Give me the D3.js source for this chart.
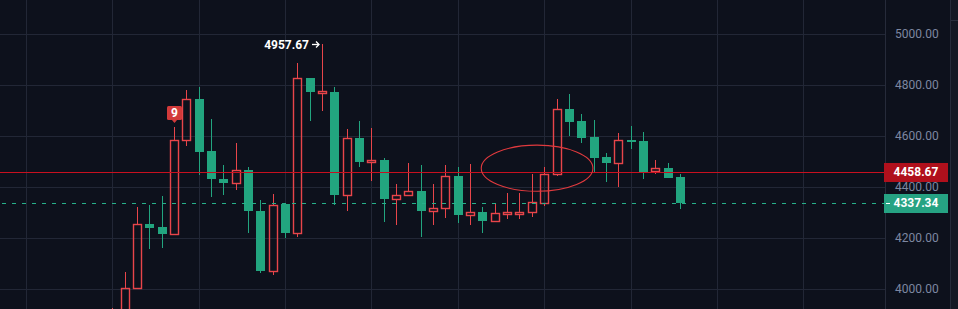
<!DOCTYPE html>
<html><head><meta charset="utf-8">
<script src="https://cdn.jsdelivr.net/npm/d3@7/dist/d3.min.js"></script>
<style>
html,body{margin:0;padding:0;background:#0d111c;overflow:hidden}
svg{display:block}
text{font-family:Roboto,"Liberation Sans",sans-serif}
</style></head><body>
<svg id="c" width="958" height="309"></svg>
<script>
// ---- data ----
const categories = [0,1,2,3,4,5,6,7,8,9,10,11,12,13,14,15,16,17,18,19,20,21,22,23,24,25,26,27,28,29,30,31,32,33,34,35,36,37,38,39,40,41,42,43,44,45,46];
const opens  = [3860,3900,4003,4255,4243,4214,4583,4745,4541,4431,4415,4467,4306,4068,4331,4218,4827,4770,4773,4366,4592,4495,4506,4350,4366,4384,4306,4315,4443,4288,4301,4266,4295,4297,4299,4338,4450,4706,4659,4596,4518,4491,4584,4580,4460,4475,4439];
const highs  = [3923,4067,4322,4328,4365,4635,4779,4790,4665,4485,4570,4476,4349,4371,4335,4885,4828,4957.67,4792,4627,4659,4629,4511,4411,4494,4486,4411,4484,4476,4489,4322,4331,4376,4376,4448,4478,4745,4763,4686,4663,4532,4612,4639,4616,4503,4494,4450];
const lows   = [3820,3880,4000,4156,4160,4212,4558,4447,4358,4366,4388,4220,4060,4055,4197,4201,4658,4698,4327,4306,4476,4421,4260,4251,4366,4201,4250,4276,4258,4248,4217,4264,4272,4272,4280,4324,4443,4599,4570,4459,4417,4400,4546,4429,4448,4433,4314];
const closes = [3900,4003,4254,4240,4213,4583,4744,4538,4429,4413,4465,4303,4068,4329,4217,4826,4770,4776,4366,4591,4495,4506,4350,4369,4384,4306,4316,4443,4288,4301,4264,4297,4302,4302,4340,4451,4705,4655,4592,4514,4491,4583,4578,4459,4475,4435,4337.34];
const yTicks = [4000,4200,4400,4600,4800,5000];
const priceLine = 4458.67;
const lastPrice = 4337.34;
const highLabel = "4957.67";
const highIndex = 17;
const markerIndex = 5;
const markerText = "9";
const ellipseBox = {i0: 29.9, i1: 38.95, p0: 4382, p1: 4563};

// ---- layout ----
const W = 958, H = 309, plotR = 885;
const UP = "#e8454a", DOWN = "#22a57f";
const svg = d3.select("#c");
svg.append("rect").attr("width", W).attr("height", H).attr("fill", "#0d111c");

const x = d3.scaleLinear().domain([-9.1, 62.62]).range([0, plotR]);
const y = d3.scaleLinear().domain([4000, 5000]).range([288.7, 33.7]);

// grid
const g = svg.append("g").attr("shape-rendering", "crispEdges");
const gridIdx = d3.range(-7, 63, 7);
g.selectAll("line.v").data(gridIdx).join("line")
  .attr("x1", d => Math.round(x(d)) + 0.5).attr("x2", d => Math.round(x(d)) + 0.5)
  .attr("y1", 0).attr("y2", H).attr("stroke", "#222736").attr("stroke-width", 1);
g.selectAll("line.h").data(yTicks).join("line")
  .attr("x1", 0).attr("x2", plotR)
  .attr("y1", d => Math.round(y(d)) + 0.5).attr("y2", d => Math.round(y(d)) + 0.5)
  .attr("stroke", "#222736").attr("stroke-width", 1);

// candles
const plot = svg.append("g");
const data = categories.map((c, i) => ({i: c, o: opens[i], h: highs[i], l: lows[i], c: closes[i]}));
data.forEach(d => {
  const cx = Math.round(x(d.i));
  const up = d.c >= d.o;
  const col = up ? UP : DOWN;
  const yt = Math.round(y(Math.max(d.o, d.c)));
  let yb = Math.round(y(Math.min(d.o, d.c)));
  if (yb - yt < 2) yb = yt + 2;
  const yh = Math.round(y(d.h)), yl = Math.round(y(d.l));
  if (up) {
    if (yh < yt) plot.append("rect").attr("x", cx).attr("y", yh).attr("width", 1).attr("height", yt - yh).attr("fill", col);
    if (yl > yb) plot.append("rect").attr("x", cx).attr("y", yb + 1).attr("width", 1).attr("height", yl - yb - 1).attr("fill", col);
    plot.append("rect").attr("x", cx - 3.5).attr("y", yt + 0.5).attr("width", 8).attr("height", yb - yt)
      .attr("fill", "none").attr("stroke", col).attr("stroke-width", 1.4);
  } else {
    plot.append("rect").attr("x", cx).attr("y", yh).attr("width", 1).attr("height", Math.max(1, yl - yh)).attr("fill", col);
    plot.append("rect").attr("x", cx - 4).attr("y", yt).attr("width", 9).attr("height", Math.max(2, yb - yt))
      .attr("fill", col);
  }
});

// price line
svg.append("line").attr("x1", 0).attr("x2", plotR)
  .attr("y1", Math.round(y(priceLine)) + 0.5).attr("y2", Math.round(y(priceLine)) + 0.5)
  .attr("stroke", "#c8101f").attr("stroke-width", 1).attr("shape-rendering", "crispEdges");
// last price dashed line
svg.append("line").attr("x1", 0).attr("x2", plotR)
  .attr("y1", Math.round(y(lastPrice)) + 0.5).attr("y2", Math.round(y(lastPrice)) + 0.5)
  .attr("stroke", "#26b08a").attr("stroke-width", 1).attr("stroke-dasharray", "4,6").attr("stroke-dashoffset", -2)
  .attr("shape-rendering", "crispEdges");

// ellipse
svg.append("ellipse")
  .attr("cx", (x(ellipseBox.i0) + x(ellipseBox.i1)) / 2)
  .attr("cy", (y(ellipseBox.p0) + y(ellipseBox.p1)) / 2)
  .attr("rx", (x(ellipseBox.i1) - x(ellipseBox.i0)) / 2)
  .attr("ry", (y(ellipseBox.p0) - y(ellipseBox.p1)) / 2)
  .attr("fill", "none").attr("stroke", "#e03a3e").attr("stroke-width", 1.1);

// high label
const hx = Math.round(x(highIndex));
const hy = y(highs[highIndex]);
svg.append("text").attr("x", hx - 13).attr("y", hy)
  .attr("dy", "0.35em").attr("text-anchor", "end").attr("fill", "#ffffff")
  .attr("font-size", 12).attr("font-weight", "bold").text(highLabel);
svg.append("line").attr("x1", hx - 10).attr("x2", hx - 3).attr("y1", Math.round(hy) + 0.5).attr("y2", Math.round(hy) + 0.5)
  .attr("stroke", "#ffffff").attr("stroke-width", 1.3);
svg.append("path").attr("d", `M${hx-6},${Math.round(hy)-2.5}L${hx-3},${Math.round(hy)+0.5}L${hx-6},${Math.round(hy)+3.5}`)
  .attr("fill", "none").attr("stroke", "#ffffff").attr("stroke-width", 1.3);

// marker "9"
const mx = Math.round(x(markerIndex)) + 0.5;
const mTip = Math.round(y(highs[markerIndex])) - 4;
const mk = svg.append("g");
mk.append("rect").attr("x", mx - 7.5).attr("y", mTip - 17).attr("width", 15).attr("height", 14).attr("rx", 1.5).attr("fill", "#d23a3a");
mk.append("path").attr("d", `M${mx-3},${mTip-3.5}L${mx},${mTip}L${mx+3},${mTip-3.5}Z`).attr("fill", "#d23a3a");
mk.append("text").attr("x", mx).attr("y", mTip - 10).attr("dy", "0.36em").attr("text-anchor", "middle")
  .attr("fill", "#ffffff").attr("font-size", 12).attr("font-weight", "bold").text(markerText);

// right axis area
svg.append("rect").attr("x", plotR).attr("y", 0).attr("width", 65).attr("height", H).attr("fill", "#0d111c");
svg.append("line").attr("x1", plotR + 0.5).attr("x2", plotR + 0.5).attr("y1", 0).attr("y2", H).attr("stroke", "#262b3a");
svg.append("rect").attr("x", 950).attr("y", 0).attr("width", 8).attr("height", H).attr("fill", "#141824");
svg.append("line").attr("x1", 950.5).attr("x2", 950.5).attr("y1", 0).attr("y2", H).attr("stroke", "#262b3a");
svg.append("line").attr("x1", 951).attr("x2", 958).attr("y1", 20.5).attr("y2", 20.5).attr("stroke", "#2a2f3e");

const axis = d3.axisRight(y).tickValues(yTicks).tickFormat(d3.format(".2f")).tickSize(0).tickPadding(10);
const ag = svg.append("g").attr("transform", `translate(${plotR},0)`).call(axis);
ag.select(".domain").remove();
ag.selectAll("text").attr("fill", "#7d87a1").attr("font-size", 12).attr("font-family", "Roboto,sans-serif");

// price labels
function tag(v, bg) {
  const yy = y(v);
  svg.append("rect").attr("x", plotR - 1).attr("y", Math.round(yy) - 9).attr("width", 64).attr("height", 19).attr("fill", bg);
  svg.append("text").attr("x", plotR + 31).attr("y", yy).attr("dy", "0.36em").attr("text-anchor", "middle")
    .attr("fill", "#ffffff").attr("font-size", 12).attr("font-weight", "bold").text(d3.format(".2f")(v));
}
tag(priceLine, "#b0101c");
tag(lastPrice, "#26a383");
svg.append("line").attr("x1", plotR + 1).attr("x2", plotR + 5).attr("y1", Math.round(y(lastPrice)) + 0.5).attr("y2", Math.round(y(lastPrice)) + 0.5).attr("stroke", "#ffffff");
</script>
</body></html>
